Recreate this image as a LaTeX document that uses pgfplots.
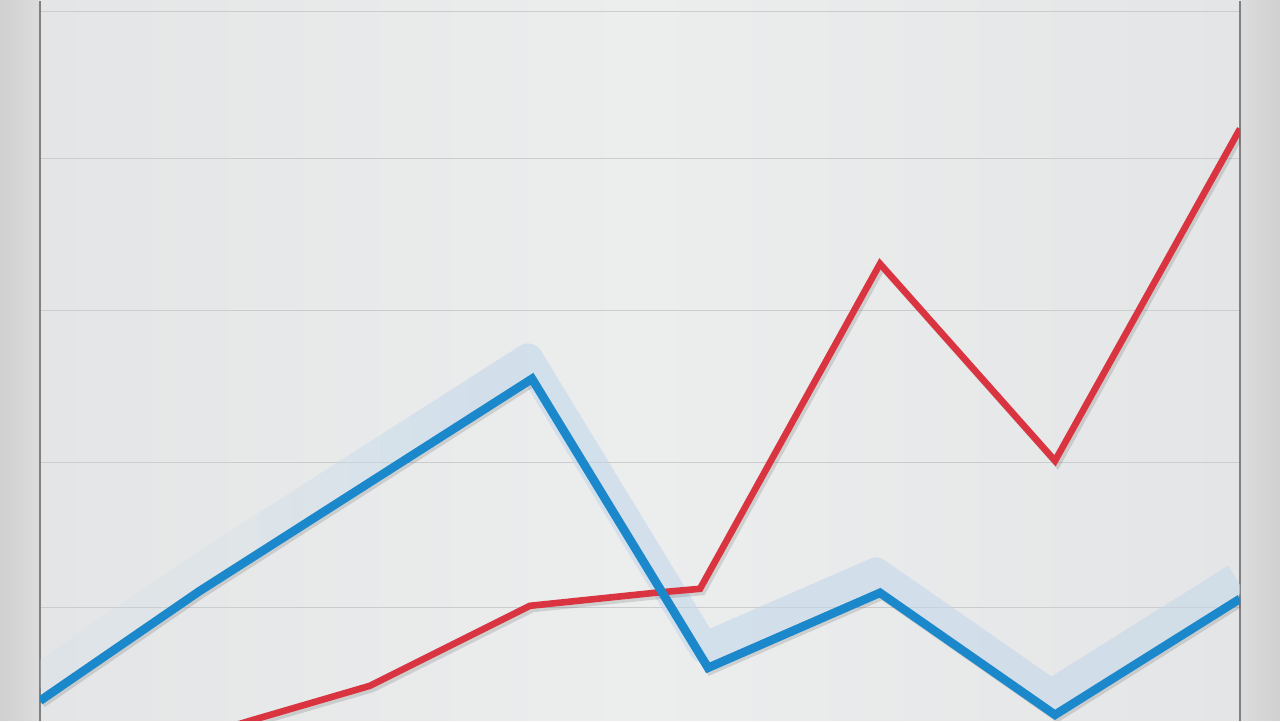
\documentclass[border=0pt]{standalone}
\usepackage{pgfplots}
\pgfplotsset{compat=1.18}
\definecolor{bluel}{HTML}{1A88CB}
\definecolor{redl}{HTML}{DA3440}
\definecolor{glow}{HTML}{C9DDEB}
\definecolor{panel}{HTML}{D0D0D0}
\definecolor{panelhi}{HTML}{DCDCDC}
\definecolor{plotbg}{HTML}{E4E5E6}
\definecolor{plotbghi}{HTML}{ECEDED}
\definecolor{gridc}{HTML}{CACCCD}
\begin{document}
\begin{tikzpicture}
\fill[left color=panel, right color=panelhi] (0,0) rectangle (20pt,360pt);
\fill[left color=panelhi, right color=panel] (620pt,0) rectangle (640pt,360pt);
\begin{axis}[
  at={(20pt,0pt)}, anchor=south west,
  scale only axis, width=600pt, height=360pt,
  xmin=40, xmax=1240, ymin=0, ymax=720,
  separate axis lines,
  x axis line style={draw=none},
  y axis line style={draw=black!50, line width=0.8pt},
  axis background/.style={left color=plotbg, right color=plotbg, middle color=plotbghi},
  xtick=\empty,
  ytick={113,258,410,562,709},
  yticklabels={},
  major tick length=0pt,
  ymajorgrids,
  major grid style={gridc, line width=0.7pt},
  clip=true,
]
\pgfplotstableread{
x y
40 20
200 130
532 342
708 53
880 128
1055 6
1240 122
}\bluedata
\pgfplotstableread{
x y
150 -30
250 0
370 35
530 115
655 128
700 132
880 457
1055 260
1240 592
}\reddata
% blue glow band, faint overall
\addplot[glow, opacity=0.22, line width=15pt, line join=round, xshift=-2pt, yshift=10pt] table[x=x,y=y]{\bluedata};
% glow grows stronger towards the peak, in small steps
\pgfplotsinvokeforeach{260,290,320,350,380,410,440,470}{
\begin{scope}
\clip (axis cs:#1,0) rectangle (axis cs:1240,720);
\addplot[glow, opacity=0.09, line width=15pt, line join=round, xshift=-2pt, yshift=10pt] table[x=x,y=y]{\bluedata};
\end{scope}
}
% shadows
\addplot[black, opacity=0.12, line width=3.5pt, xshift=1.2pt, yshift=-1.5pt] table[x=x,y=y]{\reddata};
\addplot[black, opacity=0.12, line width=4pt, xshift=1.2pt, yshift=-1.5pt] table[x=x,y=y]{\bluedata};
\addplot[redl, line width=3.3pt, line join=miter] table[x=x,y=y]{\reddata};
\addplot[bluel, line width=4.3pt, line join=miter] table[x=x,y=y]{\bluedata};
\end{axis}
\end{tikzpicture}
\end{document}
